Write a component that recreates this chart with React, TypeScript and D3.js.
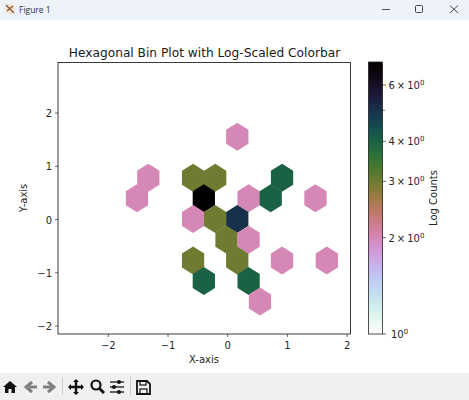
import React from "react";
import * as d3 from "d3";

const hexX = [0.16, -1.33, -0.58, -0.21, 0.91, -1.52, -0.40, 0.35, 0.72, 1.47, -0.58, -0.21, 0.16, -0.02, 0.35, -0.58, 0.16, 0.91, 1.66, -0.40, 0.35, 0.54];
const hexY = [1.555, 0.785, 0.785, 0.785, 0.785, 0.40, 0.40, 0.40, 0.40, 0.40, 0.01, 0.01, 0.01, -0.38, -0.38, -0.77, -0.77, -0.77, -0.77, -1.155, -1.155, -1.54];
const hexCount = [2, 2, 3, 3, 4, 2, 7, 2, 4, 2, 2, 3, 5, 3, 2, 3, 3, 2, 2, 4, 4, 2];
const xTicks = [-2, -1, 0, 1, 2];
const yTicks = [-2, -1, 0, 1, 2];
const cbLabelled = [1, 2, 3, 4, 6];
const cbMinor = [5];

const W = 469, H = 400;
const FONT = "'DejaVu Sans', sans-serif";
const INK = "#262626";

const x = d3.scaleLinear().domain([-2.843, 2.057]).range([58, 350.5]);
const y = d3.scaleLinear().domain([-2.15, 2.95]).range([334, 62.5]);
const cy = d3.scaleLog().domain([1, 7.08]).range([334, 62]);
const color = d3.scaleSequentialLog((t: number) => d3.interpolateCubehelixDefault(1 - t)).domain([1, 7]);

const HALF_W = 0.1866;
const RADIUS = 0.263;
const hexPath = (cx: number, cyv: number) => {
  const pts: [number, number][] = [
    [cx, cyv + RADIUS],
    [cx + HALF_W, cyv + RADIUS / 2],
    [cx + HALF_W, cyv - RADIUS / 2],
    [cx, cyv - RADIUS],
    [cx - HALF_W, cyv - RADIUS / 2],
    [cx - HALF_W, cyv + RADIUS / 2],
  ];
  return d3.line()(pts.map(([a, b]) => [x(a), y(b)] as [number, number])) + "Z";
};

const strips = d3.range(0, 272).map((i) => 62 + i);

const Sup = ({ t, px, py }: { t: string; px: number; py: number }) => (
  <text x={px} y={py} fontSize={10} fill={INK} fontFamily={FONT}>
    {t}
    <tspan dy={-4} fontSize={7}>0</tspan>
  </text>
);

export default function App() {
  return (
    <svg width={W} height={H} style={{ position: "absolute", left: 0, top: 0 }}>
      <rect width={W} height={H} fill="#fff" />
      {/* window title bar */}
      <rect width={W} height={20} fill="#eef2f9" />
      <g transform="translate(10,9)">
        <circle r={5.5} fill="#f3e7d3" />
        <path d="M-4,-4L4,4M-3,2L3,-3" stroke="#8a5a3a" strokeWidth={1.4} />
      </g>
      <text x={19} y={13} fontSize={8.5} fill="#333" fontFamily="'Open Sans', sans-serif">Figure 1</text>
      <path d="M382,9.5H390" stroke="#555" strokeWidth={1} />
      <rect x={415.5} y={5.5} width={7} height={7} rx={1} fill="none" stroke="#444" strokeWidth={1} />
      <path d="M450,5.5L458,13M458,5.5L450,13" stroke="#444" strokeWidth={1} />

      {/* hexes */}
      {hexCount.map((c, i) => (
        <path key={i} d={hexPath(hexX[i], hexY[i])} fill={color(c)} />
      ))}

      {/* axes frame */}
      <rect x={58} y={62.5} width={292.5} height={271.5} fill="none" stroke={INK} strokeWidth={0.9} />
      {xTicks.map((t) => (
        <g key={t}>
          <line x1={x(t)} x2={x(t)} y1={334} y2={337} stroke={INK} strokeWidth={0.7} />
          <text x={x(t)} y={349} textAnchor="middle" fontSize={10} fill={INK} fontFamily={FONT}>
            {t < 0 ? `\u2212${-t}` : t}
          </text>
        </g>
      ))}
      {yTicks.map((t) => (
        <g key={t}>
          <line x1={55} x2={58} y1={y(t)} y2={y(t)} stroke={INK} strokeWidth={0.7} />
          <text x={52} y={y(t) + 4} textAnchor="end" fontSize={10} fill={INK} fontFamily={FONT}>
            {t < 0 ? `\u2212${-t}` : t}
          </text>
        </g>
      ))}
      <text x={204.5} y={57} textAnchor="middle" fontSize={12.2} fill="#1a1a1a" fontFamily={FONT}>
        Hexagonal Bin Plot with Log-Scaled Colorbar
      </text>
      <text x={204} y={363} textAnchor="middle" fontSize={10} fill={INK} fontFamily={FONT}>X-axis</text>
      <text transform="translate(27,198) rotate(-90)" textAnchor="middle" fontSize={10} fill={INK} fontFamily={FONT}>Y-axis</text>

      {/* colourbar */}
      {strips.map((py) => (
        <rect key={py} x={368.5} y={py} width={14} height={1.5} fill={color(Math.min(7, cy.invert(py + 0.5)))} />
      ))}
      <rect x={368.5} y={62} width={14} height={272} fill="none" stroke={INK} strokeWidth={0.8} />
      {cbLabelled.map((v) => (
        <g key={v}>
          <line x1={382.5} x2={386} y1={cy(v)} y2={cy(v)} stroke={INK} strokeWidth={0.7} />
          <Sup t={v === 1 ? "10" : `${v}\u2009\u00d7\u200910`} px={v === 1 ? 391 : 388.5} py={cy(v) + 4} />
        </g>
      ))}
      {cbMinor.map((v) => (
        <line key={v} x1={382.5} x2={385} y1={cy(v)} y2={cy(v)} stroke={INK} strokeWidth={0.6} />
      ))}
      <text transform="translate(437,198) rotate(-90)" textAnchor="middle" fontSize={10} fill={INK} fontFamily={FONT}>Log Counts</text>

      {/* toolbar */}
      <rect y={373} width={W} height={27} fill="#f0f0f0" />
      <path d="M3,387L10,381L17,387H15V393H11.5V389H8.5V393H5V387Z" fill="#111" />
      <path d="M37,387H29M32,382L26,387L32,392" fill="none" stroke="#808080" strokeWidth={3} />
      <path d="M43,387H52M48,382L54,387L48,392" fill="none" stroke="#808080" strokeWidth={3} />
      <line x1={62.5} x2={62.5} y1={377} y2={395} stroke="#ccc" />
      <path d="M69,387H83M76,380V394" stroke="#111" strokeWidth={2.4} />
      <path d="M68,387L71,384V390ZM84,387L81,384V390ZM76,379L73,382H79ZM76,395L73,392H79Z" fill="#111" />
      <circle cx={96} cy={385} r={4.5} fill="none" stroke="#111" strokeWidth={2.2} />
      <path d="M99,388L104,393" stroke="#111" strokeWidth={2.8} />
      <path d="M110,382H124M110,387H124M110,392H124" stroke="#333" strokeWidth={1.3} />
      <circle cx={119} cy={382} r={2} fill="#111" />
      <circle cx={114} cy={387} r={2} fill="#111" />
      <circle cx={119} cy={392} r={2} fill="#111" />
      <line x1={130.5} x2={130.5} y1={377} y2={395} stroke="#ccc" />
      <path d="M137,381H147L150,384V394H137Z" fill="none" stroke="#111" strokeWidth={1.8} />
      <rect x={140} y={381} width={6} height={4} fill="none" stroke="#111" strokeWidth={1.2} />
      <rect x={140} y={389} width={7} height={5} fill="none" stroke="#111" strokeWidth={1.2} />
    </svg>
  );
}
